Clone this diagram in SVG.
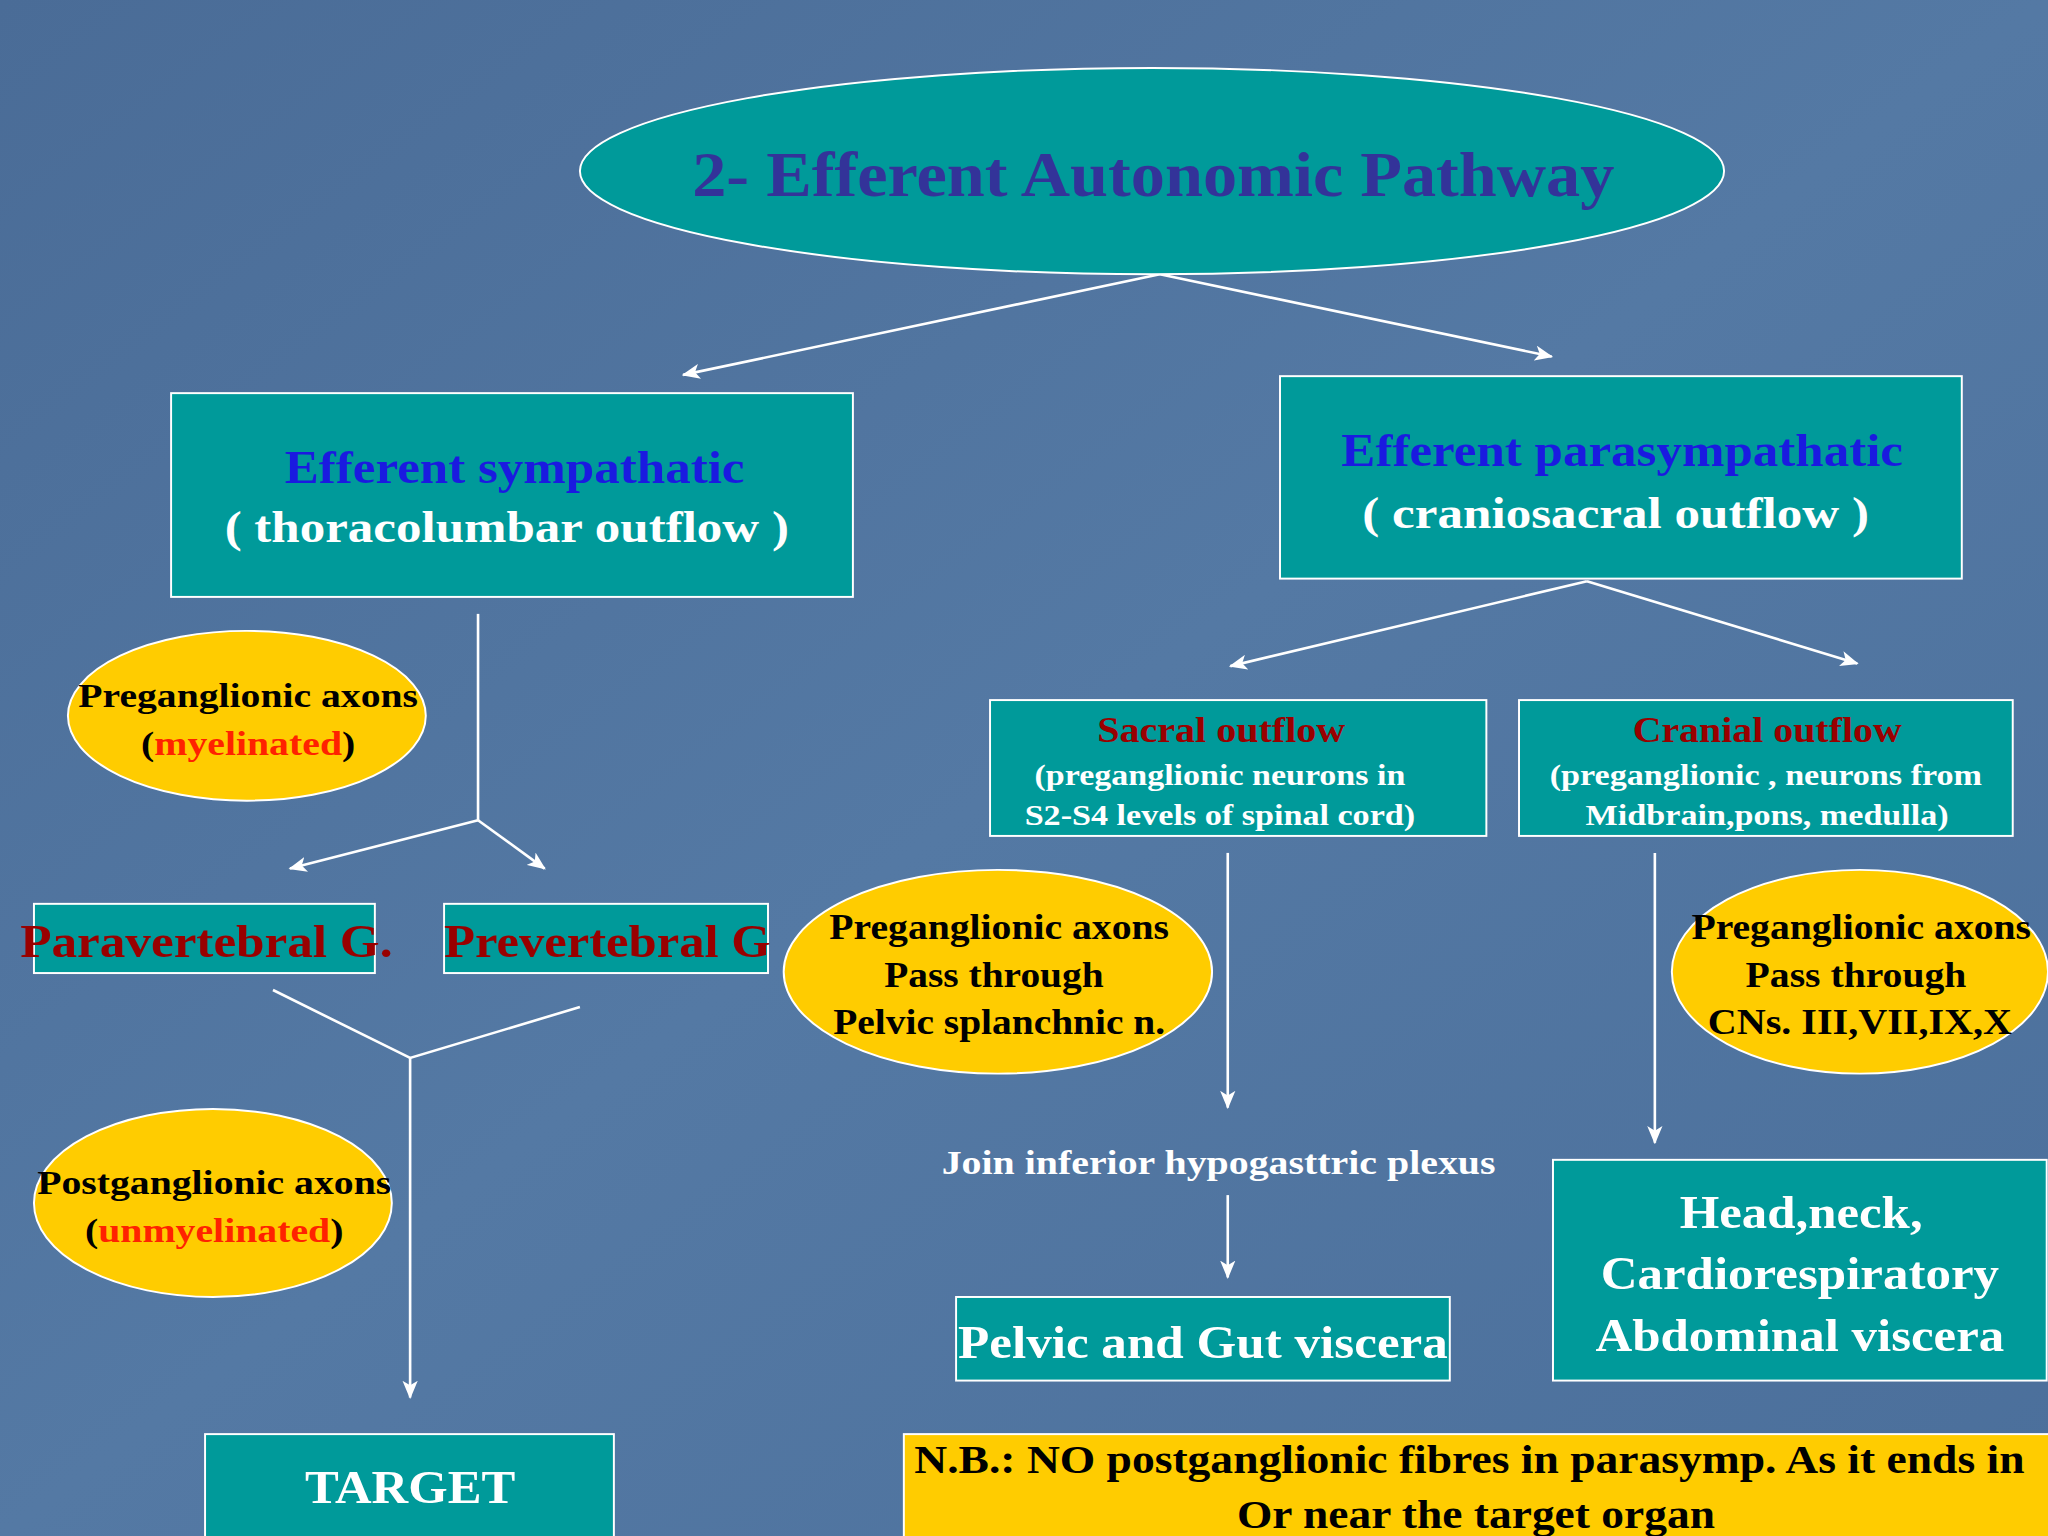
<svg xmlns="http://www.w3.org/2000/svg" width="2048" height="1536" viewBox="0 0 2048 1536">
<style>
text{font-family:"Liberation Serif","Times New Roman",serif;font-weight:bold;text-anchor:middle}
.box{fill:#009a9a;stroke:#fff;stroke-width:1.5}
.yel{fill:#ffcc00;stroke:#fff;stroke-width:1.5}
.ln{stroke:#fff;stroke-width:2;fill:none}
.w{fill:#fff}
.k{fill:#000}
.r{fill:#ff2200}
</style>
<defs>
<marker id="a" viewBox="0 0 12 10" refX="11" refY="5" markerWidth="14" markerHeight="12" orient="auto" markerUnits="userSpaceOnUse"><path d="M0,0 L12,5 L0,10 L3,5 z" fill="#fff"/></marker>
<linearGradient id="bg" x1="0" y1="0" x2="1" y2="1"><stop offset="0" stop-color="#4a6c97"/><stop offset="0.5" stop-color="#5479a4"/><stop offset="1" stop-color="#4b6f9b"/></linearGradient>
</defs>
<rect width="2048" height="1536" fill="url(#bg)"/>
<g transform="scale(1.306122)">
<g id="connectors">
<path class="ln" marker-end="url(#a)" d="M888,210 L523,287"/>
<path class="ln" marker-end="url(#a)" d="M888,210 L1188,273"/>
<path class="ln" marker-end="url(#a)" d="M1215,445 L942,510"/>
<path class="ln" marker-end="url(#a)" d="M1215,445 L1422,508"/>
<path class="ln" d="M366,470 L366,628"/>
<path class="ln" marker-end="url(#a)" d="M366,628 L222,665"/>
<path class="ln" marker-end="url(#a)" d="M366,628 L417,665"/>
<path class="ln" d="M209,758 L314,810 L444,771"/>
<path class="ln" marker-end="url(#a)" d="M314,810 L314,1070"/>
<path class="ln" marker-end="url(#a)" d="M940,653 L940,848"/>
<path class="ln" marker-end="url(#a)" d="M940,915 L940,978"/>
<path class="ln" marker-end="url(#a)" d="M1267,653 L1267,875"/>
</g>
<g id="title"><ellipse class="box" cx="882" cy="131" rx="438" ry="79"/><text x="883" y="150" font-size="48" fill="#333399" textLength="706" lengthAdjust="spacingAndGlyphs">2- Efferent Autonomic Pathway</text></g>
<g id="symp"><rect class="box" x="131" y="301" width="522" height="156"/><text x="394" y="370" font-size="36" fill="#1a1ae0" textLength="352" lengthAdjust="spacingAndGlyphs">Efferent sympathatic</text><text x="388" y="415" font-size="34" class="w" textLength="432" lengthAdjust="spacingAndGlyphs">( thoracolumbar outflow )</text></g>
<g id="para"><rect class="box" x="980" y="288" width="522" height="155"/><text x="1242" y="357" font-size="36" fill="#1a1ae0" textLength="430" lengthAdjust="spacingAndGlyphs">Efferent parasympathatic</text><text x="1237" y="404" font-size="34" class="w" textLength="388" lengthAdjust="spacingAndGlyphs">( craniosacral outflow )</text></g>
<g id="sacral"><rect class="box" x="758" y="536" width="380" height="104"/><text x="935" y="568" font-size="27" fill="#990000" textLength="190" lengthAdjust="spacingAndGlyphs">Sacral outflow</text><text x="934" y="601" font-size="23" class="w" textLength="284" lengthAdjust="spacingAndGlyphs">(preganglionic neurons in</text><text x="934" y="632" font-size="23" class="w" textLength="299" lengthAdjust="spacingAndGlyphs">S2-S4 levels of spinal cord)</text></g>
<g id="cranial"><rect class="box" x="1163" y="536" width="378" height="104"/><text x="1353" y="568" font-size="27" fill="#990000" textLength="206" lengthAdjust="spacingAndGlyphs">Cranial outflow</text><text x="1352" y="601" font-size="23" class="w" textLength="331" lengthAdjust="spacingAndGlyphs">(preganglionic , neurons from</text><text x="1353" y="632" font-size="23" class="w" textLength="278" lengthAdjust="spacingAndGlyphs">Midbrain,pons, medulla)</text></g>
<g id="pre1"><ellipse class="yel" cx="189" cy="548" rx="137" ry="65"/><text x="190" y="541" font-size="26" class="k" textLength="260" lengthAdjust="spacingAndGlyphs">Preganglionic axons</text><text x="190" y="578" font-size="26" class="k" textLength="164" lengthAdjust="spacingAndGlyphs">(<tspan class="r">myelinated</tspan>)</text></g>
<g id="paraG"><rect class="box" x="26" y="692" width="261" height="53"/><text x="158" y="733" font-size="36" fill="#990000" textLength="285" lengthAdjust="spacingAndGlyphs">Paravertebral G.</text></g>
<g id="preG"><rect class="box" x="340" y="692" width="248" height="53"/><text x="465" y="733" font-size="36" fill="#990000" textLength="250" lengthAdjust="spacingAndGlyphs">Prevertebral G</text></g>
<g id="post"><ellipse class="yel" cx="163" cy="921" rx="137" ry="72"/><text x="164" y="914" font-size="26" class="k" textLength="271" lengthAdjust="spacingAndGlyphs">Postganglionic axons</text><text x="164" y="951" font-size="26" class="k" textLength="198" lengthAdjust="spacingAndGlyphs">(<tspan class="r">unmyelinated</tspan>)</text></g>
<g id="target"><rect class="box" x="157" y="1098" width="313" height="90"/><text x="314" y="1151" font-size="36" class="w" textLength="161" lengthAdjust="spacingAndGlyphs">TARGET</text></g>
<g id="pelvicE"><ellipse class="yel" cx="764" cy="744" rx="164" ry="78"/><text x="765" y="719" font-size="27" class="k" textLength="260" lengthAdjust="spacingAndGlyphs">Preganglionic axons</text><text x="761" y="756" font-size="27" class="k" textLength="168" lengthAdjust="spacingAndGlyphs">Pass through</text><text x="765" y="792" font-size="27" class="k" textLength="254" lengthAdjust="spacingAndGlyphs">Pelvic splanchnic n.</text></g>
<g id="join"><text x="933" y="899" font-size="26" class="w" textLength="424" lengthAdjust="spacingAndGlyphs">Join inferior hypogasttric plexus</text></g>
<g id="pelvic"><rect class="box" x="732" y="993" width="378" height="64"/><text x="921" y="1040" font-size="36" class="w" textLength="375" lengthAdjust="spacingAndGlyphs">Pelvic and Gut viscera</text></g>
<g id="cnE"><ellipse class="yel" cx="1424" cy="744" rx="144" ry="78"/><text x="1425" y="719" font-size="27" class="k" textLength="260" lengthAdjust="spacingAndGlyphs">Preganglionic axons</text><text x="1421" y="756" font-size="27" class="k" textLength="169" lengthAdjust="spacingAndGlyphs">Pass through</text><text x="1424" y="792" font-size="27" class="k" textLength="233" lengthAdjust="spacingAndGlyphs">CNs. III,VII,IX,X</text></g>
<g id="head"><rect class="box" x="1189" y="888" width="378" height="169"/><text x="1379" y="940" font-size="36" class="w" textLength="186" lengthAdjust="spacingAndGlyphs">Head,neck,</text><text x="1378" y="987" font-size="36" class="w" textLength="305" lengthAdjust="spacingAndGlyphs">Cardiorespiratory</text><text x="1378" y="1034" font-size="36" class="w" textLength="313" lengthAdjust="spacingAndGlyphs">Abdominal viscera</text></g>
<g id="nb"><rect x="692" y="1098" width="880" height="90" fill="#ffcc00" stroke="#fff" stroke-width="1.5"/><text x="1125" y="1128" font-size="30" class="k" textLength="850" lengthAdjust="spacingAndGlyphs">N.B.: NO postganglionic fibres in parasymp. As it ends in</text><text x="1130" y="1170" font-size="30" class="k" textLength="366" lengthAdjust="spacingAndGlyphs">Or near the target organ</text></g>
</g>
</svg>
